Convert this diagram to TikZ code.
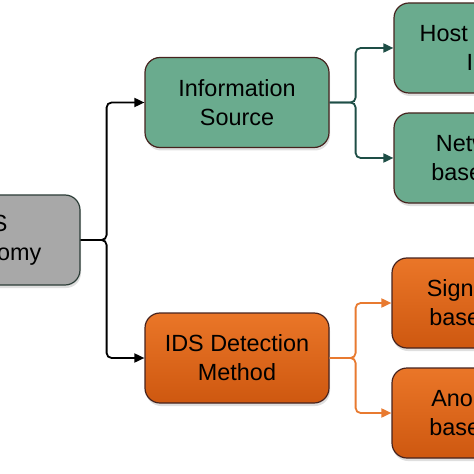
\documentclass[tikz,border=0pt]{standalone}
\usepackage{fontspec}
\setmainfont{Liberation Sans}
\usetikzlibrary{arrows.meta,shadows}

\definecolor{boxgreen}{RGB}{106,171,142}
\definecolor{boxgray}{RGB}{168,168,168}
\definecolor{orangetop}{RGB}{234,118,40}
\definecolor{orangebot}{RGB}{206,88,16}
\definecolor{rimdark}{RGB}{70,35,30}
\definecolor{rimgray}{RGB}{45,62,56}
\definecolor{linegreen}{RGB}{30,78,70}
\definecolor{lineorange}{RGB}{232,122,48}

\tikzset{
    box/.style={draw=rimdark, line width=1.2bp, rounded corners=15bp,
        minimum width=184bp, minimum height=90bp, align=center,
        font=\fontsize{23.4bp}{29bp}\selectfont,
        drop shadow={shadow xshift=1bp, shadow yshift=-3bp, opacity=0.25}},
    conn/.style={line width=1.8bp, rounded corners=5bp,
        -{Triangle[length=10bp,width=9bp]}}
}

\begin{document}
\begin{tikzpicture}[x=1bp,y=-1bp]
    \useasboundingbox (0,0) rectangle (474,474);
    % Boxes
    \node[box, draw=rimgray, fill=boxgray] (taxonomy) at (-12,240) {IDS\\Taxonomy};
    \node[box, fill=boxgreen] (infosrc) at (237,102.5) {Information\\Source};
    \node[box, top color=orangetop, bottom color=orangebot] (detect) at (237,358) {IDS Detection\\Method};
    \node[box, fill=boxgreen] (host) at (486,48) {Host - based\\IDS};
    \node[box, fill=boxgreen] (network) at (486,158) {Network -\\based IDS};
    \node[box, top color=orangetop, bottom color=orangebot] (signature) at (484,303) {Signature -\\based IDS};
    \node[box, top color=orangetop, bottom color=orangebot] (anomaly) at (484,413) {Anomaly -\\based IDS};
    % Connectors
    \draw[conn] (taxonomy.east) -- ++(26,0) |- (infosrc.west);
    \draw[conn] (taxonomy.east) -- ++(26,0) |- (detect.west);
    \draw[conn, color=linegreen] (infosrc.east) -- ++(26,0) |- (host.west);
    \draw[conn, color=linegreen] (infosrc.east) -- ++(26,0) |- (network.west);
    \draw[conn, color=lineorange] (detect.east) -- ++(26,0) |- (signature.west);
    \draw[conn, color=lineorange] (detect.east) -- ++(26,0) |- (anomaly.west);
\end{tikzpicture}
\end{document}
